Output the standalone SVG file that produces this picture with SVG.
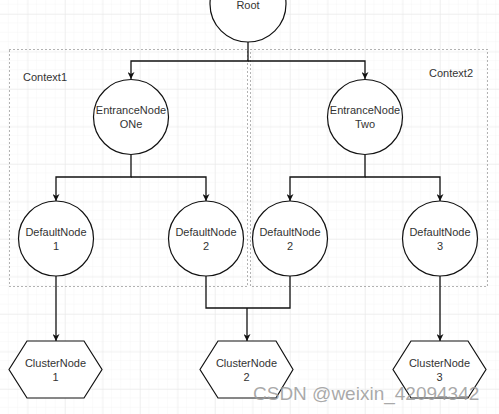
<svg xmlns="http://www.w3.org/2000/svg" width="499" height="414" viewBox="0 0 499 414">
<style>
.node{fill:#fff;stroke:#111;stroke-width:1.2}
.lbl{font-family:"Liberation Sans",Arial,sans-serif;font-size:11px;fill:#333;text-anchor:middle}
.ctx{fill:none;stroke:#666;stroke-width:1;stroke-dasharray:1 3}
.edge{fill:none;stroke:#111;stroke-width:1.3}
.ctxl{font-family:"Liberation Sans",Arial,sans-serif;font-size:11px;fill:#333}
</style>
<defs>
<pattern id="minor" x="27.5" y="14" width="9.375" height="9.375" patternUnits="userSpaceOnUse">
<path d="M9.375 0V9.375H0" fill="none" stroke="#f5f5f5" stroke-width="1"/>
</pattern>
<pattern id="grid" x="27.5" y="14" width="37.5" height="37.5" patternUnits="userSpaceOnUse">
<path d="M0 0V37.5M0 0H37.5" fill="none" stroke="#e8e8e8" stroke-width="1"/>
</pattern>
<marker id="arr" viewBox="0 0 10 10" refX="10" refY="5" markerWidth="7" markerHeight="7" orient="auto" markerUnits="userSpaceOnUse">
<path d="M0,0 L10,5 L0,10 L3,5 Z" fill="#111"/>
</marker>
</defs>
<rect width="499" height="414" fill="#fff"/>
<rect width="499" height="414" fill="url(#minor)"/>
<rect width="499" height="414" fill="url(#grid)"/>

<g id="context1">
<rect class="ctx" x="9.5" y="49.5" width="238" height="237"/>
<text class="ctxl" x="23" y="81">Context1</text>
</g>
<g id="context2">
<rect class="ctx" x="250.5" y="49.5" width="237" height="237"/>
<text class="ctxl" x="429" y="77">Context2</text>
</g>

<g id="connectors">
<path class="edge" d="M248,42 V61 H131 V79" marker-end="url(#arr)"/>
<path class="edge" d="M248,61 H365 V79" marker-end="url(#arr)"/>
<path class="edge" d="M131,155 V177 H56 V201" marker-end="url(#arr)"/>
<path class="edge" d="M131,177 H206 V201" marker-end="url(#arr)"/>
<path class="edge" d="M365,155 V177 H290 V201" marker-end="url(#arr)"/>
<path class="edge" d="M365,177 H440 V201" marker-end="url(#arr)"/>
<path class="edge" d="M56,276 V341" marker-end="url(#arr)"/>
<path class="edge" d="M206,276 V308 H290 V276"/>
<path class="edge" d="M247,308 V341" marker-end="url(#arr)"/>
<path class="edge" d="M440,276 V341" marker-end="url(#arr)"/>
</g>

<g id="root">
<circle class="node" cx="248" cy="4" r="38"/>
<text class="lbl" x="248" y="9">Root</text>
</g>
<g id="entrance1">
<circle class="node" cx="131" cy="117" r="37.5"/>
<text class="lbl" x="131" y="114">EntranceNode</text>
<text class="lbl" x="131" y="128">ONe</text>
</g>
<g id="entrance2">
<circle class="node" cx="365" cy="117" r="37.5"/>
<text class="lbl" x="365" y="114">EntranceNode</text>
<text class="lbl" x="365" y="128">Two</text>
</g>
<g id="default1">
<circle class="node" cx="56" cy="238.5" r="37.5"/>
<text class="lbl" x="56" y="236">DefaultNode</text>
<text class="lbl" x="56" y="250">1</text>
</g>
<g id="default2a">
<circle class="node" cx="206" cy="238.5" r="37.5"/>
<text class="lbl" x="206" y="236">DefaultNode</text>
<text class="lbl" x="206" y="250">2</text>
</g>
<g id="default2b">
<circle class="node" cx="290" cy="238.5" r="37.5"/>
<text class="lbl" x="290" y="236">DefaultNode</text>
<text class="lbl" x="290" y="250">2</text>
</g>
<g id="default3">
<circle class="node" cx="440" cy="238.5" r="37.5"/>
<text class="lbl" x="440" y="236">DefaultNode</text>
<text class="lbl" x="440" y="250">3</text>
</g>
<g id="cluster1">
<polygon class="node" points="9,369.5 27,341 84,341 102,369.5 84,398 27,398"/>
<text class="lbl" x="55.5" y="367">ClusterNode</text>
<text class="lbl" x="55.5" y="381">1</text>
</g>
<g id="cluster2">
<polygon class="node" points="200,369.5 218,341 276,341 293,369.5 276,398 218,398"/>
<text class="lbl" x="246.5" y="367">ClusterNode</text>
<text class="lbl" x="246.5" y="381">2</text>
</g>
<g id="cluster3">
<polygon class="node" points="393,369.5 411,341 468,341 486,369.5 468,398 411,398"/>
<text class="lbl" x="439.5" y="367">ClusterNode</text>
<text class="lbl" x="439.5" y="381">3</text>
</g>
<text x="253" y="400" font-family="'Liberation Sans',Arial,sans-serif" font-size="19" fill="#9a9a9a" fill-opacity="0.85">CSDN @weixin_42094342</text>
</svg>
